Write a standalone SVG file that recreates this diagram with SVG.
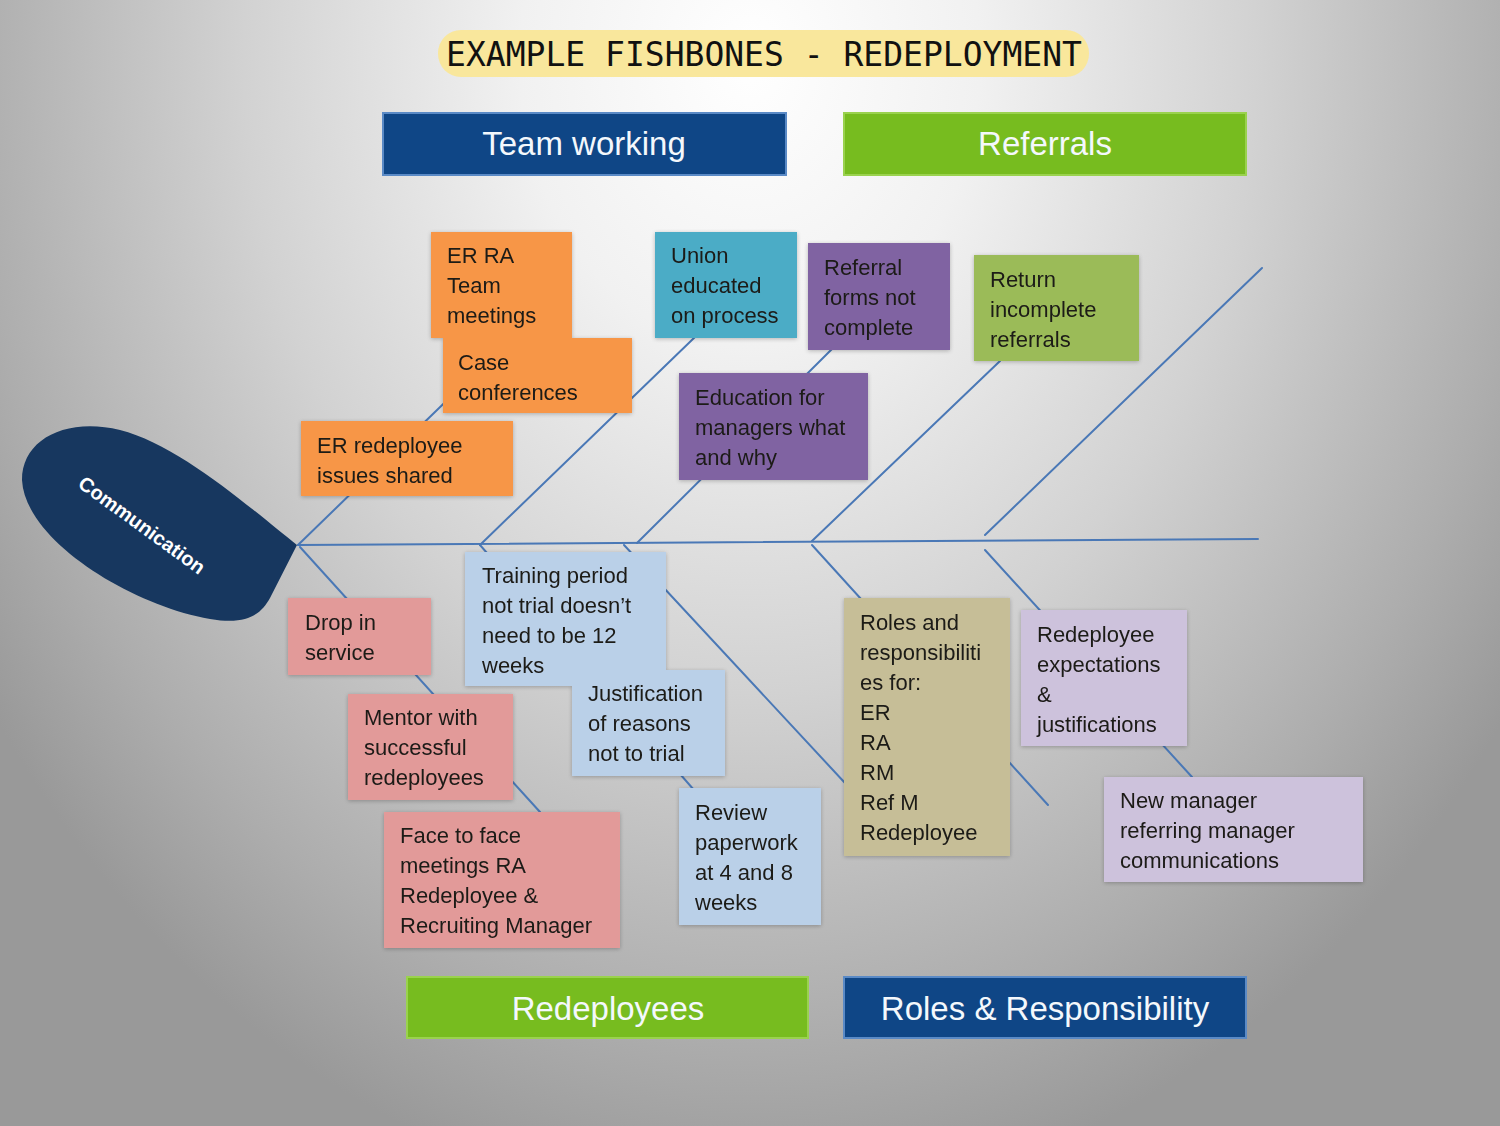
<svg xmlns="http://www.w3.org/2000/svg" width="1500" height="1126" viewBox="0 0 1500 1126">
<defs>
<radialGradient id="bg" gradientUnits="userSpaceOnUse" cx="750" cy="60" r="1000" gradientTransform="translate(750 60) scale(0.92 1.15) translate(-750 -60)">
<stop offset="0" stop-color="#ffffff"/>
<stop offset="0.25" stop-color="#f1f1f1"/>
<stop offset="0.55" stop-color="#d2d2d2"/>
<stop offset="0.85" stop-color="#adadad"/>
<stop offset="1" stop-color="#999999"/>
</radialGradient>
<filter id="sh" x="-10%" y="-10%" width="120%" height="120%">
<feGaussianBlur in="SourceAlpha" stdDeviation="2"/>
<feOffset dx="0" dy="1" result="b"/>
<feComponentTransfer><feFuncA type="linear" slope="0.25"/></feComponentTransfer>
<feMerge><feMergeNode/><feMergeNode in="SourceGraphic"/></feMerge>
</filter>
</defs>
<style>
.bone{stroke:#4a78b6;stroke-width:2;fill:none;stroke-linecap:round}
.hdr{font-family:"Liberation Sans",Arial,sans-serif;font-size:33px;fill:#f4f8fc;text-anchor:middle}
.hb{fill:#0f4686;stroke:#5a8ac6;stroke-width:2}
.hg{fill:#77bc1f;stroke:#9ad24e;stroke-width:2}
.t{font-family:"Liberation Sans",Arial,sans-serif;font-size:22px;fill:#1c1a18}
.or{fill:#f79646}
.te{fill:#4bacc6}
.pu{fill:#8064a2}
.gr{fill:#9bbb59}
.pk{fill:#e29a99}
.lb{fill:#bad0e8}
.tn{fill:#c6be97}
.lv{fill:#cdc2dc}
</style>
<rect width="1500" height="1126" fill="url(#bg)"/>

<g id="title">
<rect x="438" y="30" width="651" height="47" rx="23" fill="#f9e79c"/>
<text x="764" y="66" font-family="'DejaVu Sans Mono','Liberation Mono',monospace" font-size="33" fill="#111" text-anchor="middle">EXAMPLE FISHBONES - REDEPLOYMENT</text>
</g>

<g id="h-team"><rect class="hb" x="383" y="113" width="403" height="62"/><text class="hdr" x="584" y="155">Team working</text></g>
<g id="h-ref"><rect class="hg" x="844" y="113" width="402" height="62"/><text class="hdr" x="1045" y="155">Referrals</text></g>
<g id="h-redep"><rect class="hg" x="407" y="977" width="401" height="61"/><text class="hdr" x="608" y="1020">Redeployees</text></g>
<g id="h-roles"><rect class="hb" x="844" y="977" width="402" height="61"/><text class="hdr" x="1045" y="1020">Roles &amp; Responsibility</text></g>

<g id="connectors">
<line class="bone" x1="298" y1="545" x2="1258" y2="539"/>
<line class="bone" x1="298" y1="545" x2="470" y2="378"/>
<line class="bone" x1="480" y1="545" x2="695" y2="337"/>
<line class="bone" x1="637" y1="543" x2="832" y2="349"/>
<line class="bone" x1="812" y1="541" x2="1000" y2="361"/>
<line class="bone" x1="985" y1="535" x2="1262" y2="268"/>
<line class="bone" x1="300" y1="547" x2="540" y2="812"/>
<line class="bone" x1="480" y1="545" x2="694" y2="790"/>
<line class="bone" x1="624" y1="545" x2="845" y2="783"/>
<line class="bone" x1="812" y1="545" x2="1048" y2="805"/>
<line class="bone" x1="985" y1="550" x2="1192" y2="777"/>
</g>

<g id="head">
<path d="M297,545 C255,512 180,445 120,430 C65,417 22,440 22,480 C25,540 130,605 210,619 C250,626 262,612 270,598 Z" fill="#17375f"/>
<text x="142" y="532" transform="rotate(36 142 525)" font-family="'Liberation Sans',Arial,sans-serif" font-size="20" font-weight="bold" fill="#ffffff" text-anchor="middle">Communication</text>
</g>

<g filter="url(#sh)">
<g id="n-errta"><rect class="or" x="431" y="232" width="141" height="106"/><text class="t"><tspan x="447" y="263">ER RA</tspan><tspan x="447" y="293">Team</tspan><tspan x="447" y="323">meetings</tspan></text></g>
<g id="n-case"><rect class="or" x="443" y="338" width="189" height="75"/><text class="t"><tspan x="458" y="370">Case</tspan><tspan x="458" y="400">conferences</tspan></text></g>
<g id="n-erred"><rect class="or" x="301" y="421" width="212" height="75"/><text class="t"><tspan x="317" y="453">ER redeployee</tspan><tspan x="317" y="483">issues shared</tspan></text></g>
<g id="n-union"><rect class="te" x="655" y="232" width="142" height="106"/><text class="t"><tspan x="671" y="263">Union</tspan><tspan x="671" y="293">educated</tspan><tspan x="671" y="323">on process</tspan></text></g>
<g id="n-refforms"><rect class="pu" x="808" y="243" width="142" height="107"/><text class="t"><tspan x="824" y="275">Referral</tspan><tspan x="824" y="305">forms not</tspan><tspan x="824" y="335">complete</tspan></text></g>
<g id="n-edu"><rect class="pu" x="679" y="373" width="189" height="107"/><text class="t"><tspan x="695" y="405">Education for</tspan><tspan x="695" y="435">managers what</tspan><tspan x="695" y="465">and why</tspan></text></g>
<g id="n-return"><rect class="gr" x="974" y="255" width="165" height="106"/><text class="t"><tspan x="990" y="287">Return</tspan><tspan x="990" y="317">incomplete</tspan><tspan x="990" y="347">referrals</tspan></text></g>

<g id="n-drop"><rect class="pk" x="288" y="598" width="143" height="77"/><text class="t"><tspan x="305" y="630">Drop in</tspan><tspan x="305" y="660">service</tspan></text></g>
<g id="n-mentor"><rect class="pk" x="348" y="694" width="165" height="106"/><text class="t"><tspan x="364" y="725">Mentor with</tspan><tspan x="364" y="755">successful</tspan><tspan x="364" y="785">redeployees</tspan></text></g>
<g id="n-face"><rect class="pk" x="384" y="812" width="236" height="136"/><text class="t"><tspan x="400" y="843">Face to face</tspan><tspan x="400" y="873">meetings RA</tspan><tspan x="400" y="903">Redeployee &amp;</tspan><tspan x="400" y="933">Recruiting Manager</tspan></text></g>
<g id="n-training"><rect class="lb" x="465" y="552" width="201" height="134"/><text class="t"><tspan x="482" y="583">Training period</tspan><tspan x="482" y="613">not trial doesn’t</tspan><tspan x="482" y="643">need to be 12</tspan><tspan x="482" y="673">weeks</tspan></text></g>
<g id="n-justif"><rect class="lb" x="572" y="670" width="153" height="106"/><text class="t"><tspan x="588" y="701">Justification</tspan><tspan x="588" y="731">of reasons</tspan><tspan x="588" y="761">not to trial</tspan></text></g>
<g id="n-review"><rect class="lb" x="679" y="788" width="142" height="137"/><text class="t"><tspan x="695" y="820">Review</tspan><tspan x="695" y="850">paperwork</tspan><tspan x="695" y="880">at 4 and 8</tspan><tspan x="695" y="910">weeks</tspan></text></g>
<g id="n-roles"><rect class="tn" x="844" y="598" width="166" height="258"/><text class="t"><tspan x="860" y="630">Roles and</tspan><tspan x="860" y="660">responsibiliti</tspan><tspan x="860" y="690">es for:</tspan><tspan x="860" y="720">ER</tspan><tspan x="860" y="750">RA</tspan><tspan x="860" y="780">RM</tspan><tspan x="860" y="810">Ref M</tspan><tspan x="860" y="840">Redeployee</tspan></text></g>
<g id="n-expect"><rect class="lv" x="1021" y="610" width="166" height="136"/><text class="t"><tspan x="1037" y="642">Redeployee</tspan><tspan x="1037" y="672">expectations</tspan><tspan x="1037" y="702">&amp;</tspan><tspan x="1037" y="732">justifications</tspan></text></g>
<g id="n-newmgr"><rect class="lv" x="1104" y="777" width="259" height="105"/><text class="t"><tspan x="1120" y="808">New manager</tspan><tspan x="1120" y="838">referring manager</tspan><tspan x="1120" y="868">communications</tspan></text></g>
</g>
</svg>
